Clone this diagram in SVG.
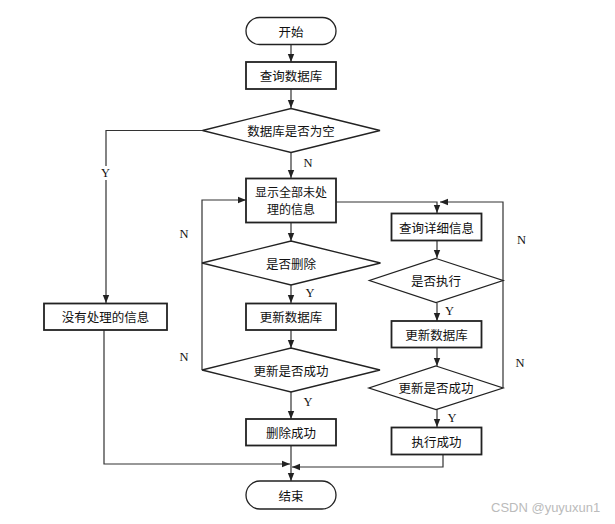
<svg xmlns="http://www.w3.org/2000/svg" width="615" height="524" viewBox="0 0 615 524">
<style>
.t{font-family:"Noto Sans CJK SC","Noto Sans",sans-serif;font-size:12.5px;fill:#111;text-anchor:middle;dominant-baseline:central}
.l{font-family:"Liberation Serif",serif;font-size:12.5px;fill:#111;text-anchor:middle;dominant-baseline:central}
.box{fill:#fff;stroke:#222;stroke-width:1.8}
.term{fill:#fff;stroke:#222;stroke-width:1.3}
.dia{fill:#fff;stroke:#222;stroke-width:1.3}
.c{fill:none;stroke:#333;stroke-width:1.2}
.wm{font-family:"Liberation Sans",Arial,sans-serif;font-size:13px;fill:#bbb}
</style>
<defs>
<marker id="a" viewBox="0 0 8 8" refX="8" refY="4" markerWidth="8" markerHeight="8" markerUnits="userSpaceOnUse" orient="auto">
<path d="M0,0.8 L8,4 L0,7.2 Z" fill="#222"/>
</marker>
</defs>
<rect width="615" height="524" fill="#fff"/>
<g id="connectors">
<path class="c" d="M291,44 V62" marker-end="url(#a)"/>
<path class="c" d="M291,89 V108" marker-end="url(#a)"/>
<path class="c" d="M291,153 V178" marker-end="url(#a)"/>
<path class="c" d="M203,130.5 H106 V166 M106,180 V303" marker-end="url(#a)"/>
<path class="c" d="M291,223 V241" marker-end="url(#a)"/>
<path class="c" d="M291,285 V303" marker-end="url(#a)"/>
<path class="c" d="M291,330 V348" marker-end="url(#a)"/>
<path class="c" d="M291,392 V419" marker-end="url(#a)"/>
<path class="c" d="M291,445 V481" marker-end="url(#a)"/>
<path class="c" d="M202,370 V200 H246" marker-end="url(#a)"/>
<path class="c" d="M104,330 V464 H290" marker-end="url(#a)"/>
<path class="c" d="M443,454 V467 H292" marker-end="url(#a)"/>
<path class="c" d="M336,202 H437 V213" marker-end="url(#a)"/>
<path class="c" d="M503,388 V202 H440" marker-end="url(#a)"/>
<path class="c" d="M437,241 V258" marker-end="url(#a)"/>
<path class="c" d="M437,303 V321" marker-end="url(#a)"/>
<path class="c" d="M437,347 V366" marker-end="url(#a)"/>
<path class="c" d="M437,409 V427" marker-end="url(#a)"/>
<text class="l" x="308" y="163">N</text>
<text class="l" x="105.5" y="173">Y</text>
<text class="l" x="184" y="234">N</text>
<text class="l" x="184" y="357">N</text>
<text class="l" x="310" y="293">Y</text>
<text class="l" x="308" y="402">Y</text>
<text class="l" x="449.5" y="311">Y</text>
<text class="l" x="452" y="418">Y</text>
<text class="l" x="521.5" y="240">N</text>
<text class="l" x="520" y="363">N</text>
</g>
<g id="start"><rect class="term" x="246" y="17.5" width="90" height="27" rx="13.5"/><text class="t" x="291" y="31">开始</text></g>
<g id="query"><rect class="box" x="246" y="62" width="90" height="27"/><text class="t" x="291" y="75.5">查询数据库</text></g>
<g id="empty"><polygon class="dia" points="291,108.5 380,130.5 291,152.5 202.5,130.5"/><text class="t" x="291" y="130.5">数据库是否为空</text></g>
<g id="show"><rect class="box" x="246" y="178.5" width="90" height="44"/><text class="t" x="291" y="191.5" style="font-size:12px">显示全部未处</text><text class="t" x="291" y="208.5" style="font-size:12px">理的信息</text></g>
<g id="isdel"><polygon class="dia" points="291,241 380.5,263 291,285 202,263"/><text class="t" x="291" y="263">是否删除</text></g>
<g id="upd1"><rect class="box" x="246" y="303.5" width="90" height="26.5"/><text class="t" x="291" y="316.5">更新数据库</text></g>
<g id="ok1"><polygon class="dia" points="291,348 380,370 291,392 202,370"/><text class="t" x="291" y="370">更新是否成功</text></g>
<g id="delok"><rect class="box" x="246" y="419" width="90" height="26.5"/><text class="t" x="291" y="432">删除成功</text></g>
<g id="none"><rect class="box" x="44" y="303.5" width="123" height="26.5"/><text class="t" x="105.5" y="316.5">没有处理的信息</text></g>
<g id="detail"><rect class="box" x="391.5" y="213.5" width="90" height="27"/><text class="t" x="436.5" y="227">查询详细信息</text></g>
<g id="isexec"><polygon class="dia" points="436,258.5 503,280.5 436,302.5 369.5,280.5"/><text class="t" x="436" y="280.5">是否执行</text></g>
<g id="upd2"><rect class="box" x="391.5" y="321" width="90" height="26.5"/><text class="t" x="436.5" y="334">更新数据库</text></g>
<g id="ok2"><polygon class="dia" points="436,366 503,388 436,409.5 369,388"/><text class="t" x="436" y="387.5">更新是否成功</text></g>
<g id="execok"><rect class="box" x="391.5" y="427.5" width="90" height="27"/><text class="t" x="436.5" y="441">执行成功</text></g>
<g id="end"><rect class="term" x="246" y="481" width="90" height="28" rx="14"/><text class="t" x="291" y="495">结束</text></g>
<text class="wm" x="491" y="512">CSDN @yuyuxun1</text>
</svg>
